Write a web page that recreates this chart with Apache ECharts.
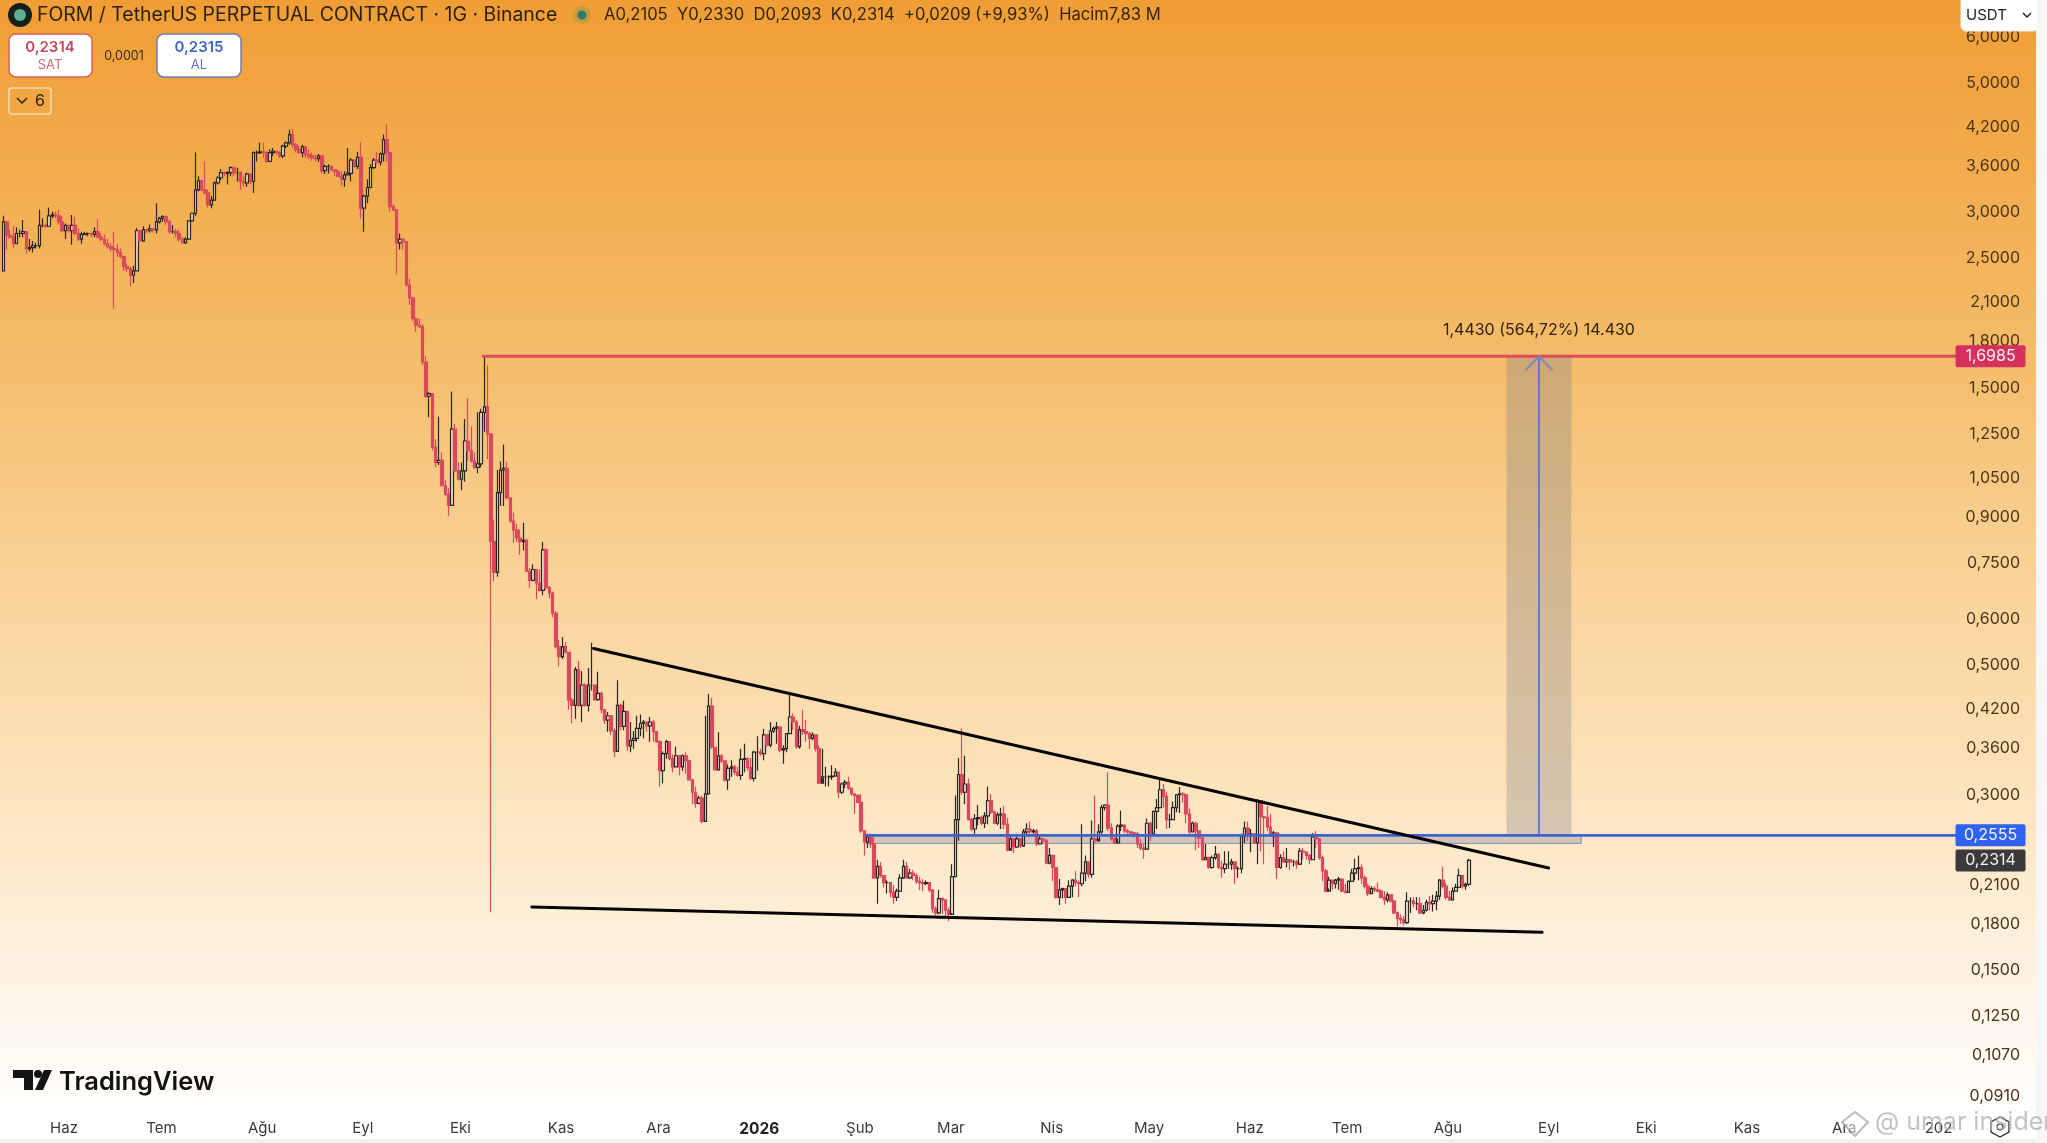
<!DOCTYPE html>
<html><head><meta charset="utf-8">
<style>html,body{margin:0;padding:0;background:#fff}#c{width:2047px;height:1143px}</style>
<script src="https://cdn.jsdelivr.net/npm/echarts@6/dist/echarts.min.js"></script>
</head><body><div id="c"></div>
<script>
const firstDay = '2025-05-12';
// daily candles: [open, close, low, high]
const candleRows = [
[2.38,2.89,2.38,2.96],[2.89,2.74,2.59,2.89],[2.74,2.72,2.70,2.80],[2.72,2.65,2.61,2.84],[2.65,2.76,2.65,2.83],[2.76,2.76,2.72,2.80],
[2.76,2.78,2.72,2.91],[2.78,2.60,2.55,2.78],[2.60,2.61,2.57,2.70],[2.61,2.63,2.56,2.68],[2.63,2.63,2.60,2.66],[2.63,2.85,2.60,3.03],
[2.85,2.85,2.83,2.93],[2.85,2.84,2.82,2.87],[2.84,2.96,2.84,3.06],[2.96,2.97,2.93,3.01],[2.97,2.96,2.93,3.01],[2.96,2.89,2.86,3.03],
[2.89,2.79,2.77,2.96],[2.79,2.85,2.70,2.87],[2.85,2.79,2.77,2.85],[2.79,2.85,2.64,2.97],[2.85,2.76,2.74,2.95],[2.76,2.70,2.68,2.82],
[2.70,2.75,2.65,2.78],[2.75,2.76,2.74,2.78],[2.76,2.76,2.73,2.77],[2.76,2.75,2.72,2.77],[2.75,2.78,2.72,2.83],[2.78,2.72,2.71,2.92],
[2.72,2.70,2.68,2.76],[2.70,2.65,2.63,2.75],[2.65,2.62,2.60,2.70],[2.62,2.60,2.57,2.66],[2.60,2.59,2.05,2.78],[2.59,2.56,2.52,2.65],
[2.56,2.52,2.50,2.60],[2.52,2.42,2.38,2.53],[2.42,2.40,2.37,2.45],[2.40,2.34,2.24,2.42],[2.34,2.38,2.27,2.43],[2.38,2.79,2.38,2.82],
[2.79,2.68,2.67,2.80],[2.68,2.80,2.67,2.84],[2.80,2.79,2.76,2.81],[2.79,2.81,2.77,2.86],[2.81,2.80,2.77,2.82],[2.80,2.89,2.76,3.11],
[2.89,2.93,2.87,2.95],[2.93,2.95,2.89,2.97],[2.95,2.89,2.85,2.96],[2.89,2.78,2.76,2.91],[2.78,2.78,2.76,2.85],[2.78,2.76,2.72,2.81],
[2.76,2.70,2.67,2.80],[2.70,2.66,2.65,2.72],[2.66,2.70,2.65,2.72],[2.70,2.90,2.69,2.91],[2.90,2.99,2.89,2.99],[2.99,3.28,2.96,3.80],
[3.28,3.40,3.26,3.46],[3.40,3.28,3.26,3.41],[3.28,3.24,3.22,3.67],[3.24,3.09,3.06,3.28],[3.09,3.15,3.05,3.20],[3.15,3.37,3.14,3.39],
[3.37,3.44,3.35,3.46],[3.44,3.51,3.41,3.56],[3.51,3.50,3.46,3.53],[3.50,3.51,3.35,3.53],[3.51,3.58,3.46,3.60],[3.58,3.51,3.46,3.60],
[3.51,3.51,3.39,3.58],[3.51,3.39,3.28,3.53],[3.39,3.37,3.32,3.46],[3.37,3.49,3.32,3.51],[3.49,3.39,3.35,3.49],[3.39,3.80,3.24,3.82],
[3.80,3.80,3.67,3.83],[3.80,3.81,3.78,3.95],[3.81,3.80,3.72,3.95],[3.80,3.67,3.65,3.82],[3.67,3.80,3.66,3.85],[3.80,3.82,3.75,3.87],
[3.82,3.80,3.77,3.82],[3.80,3.75,3.72,3.82],[3.75,3.90,3.72,3.92],[3.90,3.95,3.87,3.97],[3.95,4.08,3.92,4.16],[4.08,3.92,3.87,4.17],
[3.92,3.85,3.80,3.95],[3.85,3.80,3.78,3.90],[3.80,3.89,3.73,3.92],[3.89,3.77,3.72,3.90],[3.77,3.75,3.70,3.85],[3.75,3.72,3.68,3.80],
[3.72,3.71,3.67,3.77],[3.71,3.75,3.66,3.78],[3.75,3.54,3.50,3.75],[3.54,3.60,3.49,3.62],[3.60,3.60,3.50,3.63],[3.60,3.55,3.53,3.60],
[3.55,3.53,3.46,3.55],[3.53,3.46,3.45,3.55],[3.46,3.42,3.33,3.53],[3.42,3.48,3.32,3.53],[3.48,3.50,3.48,3.87],[3.50,3.69,3.39,3.72],
[3.69,3.60,3.58,3.67],[3.60,3.73,3.56,3.81],[3.73,3.05,2.93,3.96],[3.05,3.20,2.78,3.22],[3.20,3.31,3.11,3.42],[3.31,3.58,3.30,3.63],
[3.58,3.69,3.56,3.72],[3.69,3.66,3.63,3.81],[3.66,3.78,3.61,3.80],[3.78,4.00,3.67,4.08],[4.00,3.80,3.67,4.25],[3.80,3.07,3.01,3.80],
[3.07,3.03,3.01,3.10],[3.03,2.66,2.35,3.03],[2.66,2.70,2.59,2.76],[2.70,2.67,2.59,2.70],[2.67,2.25,2.24,2.67],[2.25,2.14,2.08,2.31],
[2.14,1.97,1.95,2.14],[1.97,1.92,1.87,1.98],[1.92,1.91,1.90,1.97],[1.91,1.66,1.64,1.93],[1.66,1.45,1.44,1.70],[1.45,1.465,1.335,1.473],
[1.465,1.185,1.17,1.46],[1.185,1.116,1.095,1.225],[1.116,1.125,1.105,1.337],[1.125,1.018,1.015,1.161],[1.018,.985,.978,1.04],[.985,.942,.903,1.01],
[.942,1.273,.94,1.477],[1.273,1.08,1.073,1.30],[1.08,1.045,1.038,1.116],[1.045,1.08,1.0,1.116],[1.08,1.215,1.034,1.325],[1.215,1.169,1.122,1.44],
[1.169,1.122,1.116,1.287],[1.122,1.095,1.088,1.161],[1.095,1.11,1.07,1.361],[1.11,1.361,1.095,1.38],[1.361,1.39,1.26,1.6985],[1.39,1.25,1.13,1.64],
[1.25,.817,.1886,1.25],[.817,.723,.698,.891],[.723,.991,.71,1.083],[.991,1.083,.94,1.12],[1.083,1.09,.94,1.198],[1.09,.97,.965,1.12],
[.97,.885,.879,.965],[.885,.855,.812,.915],[.855,.828,.815,.875],[.828,.816,.775,.855],[.816,.82,.788,.879],[.82,.726,.723,.826],
[.726,.70,.68,.735],[.70,.731,.698,.746],[.731,.693,.65,.731],[.693,.673,.67,.731],[.673,.79,.66,.815],[.79,.68,.675,.795],
[.68,.666,.652,.685],[.666,.615,.605,.67],[.615,.539,.535,.62],[.539,.518,.498,.553],[.518,.539,.513,.56],[.539,.527,.525,.549],
[.527,.436,.42,.528],[.436,.427,.398,.44],[.427,.492,.405,.497],[.492,.427,.425,.509],[.427,.463,.40,.489],[.463,.427,.425,.466],
[.427,.463,.417,.495],[.463,.463,.453,.547],[.463,.437,.435,.463],[.437,.448,.435,.488],[.448,.42,.414,.451],[.42,.403,.397,.42],
[.403,.41,.385,.416],[.41,.386,.38,.41],[.386,.356,.348,.39],[.356,.427,.356,.472],[.427,.393,.387,.43],[.393,.417,.387,.435],
[.417,.364,.357,.417],[.364,.372,.355,.40],[.372,.375,.36,.386],[.375,.39,.37,.41],[.39,.398,.378,.412],[.398,.40,.375,.403],
[.40,.394,.385,.40],[.394,.40,.37,.408],[.40,.385,.37,.403],[.385,.37,.368,.385],[.37,.33,.31,.372],[.33,.353,.314,.356],
[.353,.37,.346,.373],[.37,.346,.344,.37],[.346,.335,.328,.352],[.335,.35,.335,.363],[.35,.335,.324,.35],[.335,.35,.33,.352],
[.35,.343,.326,.355],[.343,.318,.318,.345],[.318,.303,.289,.32],[.303,.29,.285,.31],[.29,.296,.289,.299],[.296,.27,.268,.299],
[.27,.301,.27,.41],[.301,.426,.30,.447],[.426,.362,.36,.44],[.362,.331,.331,.362],[.331,.35,.33,.384],[.35,.343,.34,.352],
[.343,.318,.316,.343],[.318,.333,.306,.338],[.333,.335,.322,.344],[.335,.328,.324,.338],[.328,.324,.322,.335],[.324,.345,.318,.36],
[.345,.346,.328,.367],[.346,.334,.33,.348],[.334,.32,.318,.347],[.32,.355,.316,.357],[.355,.355,.33,.378],[.355,.353,.35,.36],
[.353,.38,.344,.389],[.38,.365,.363,.38],[.365,.386,.362,.40],[.386,.39,.383,.393],[.39,.392,.367,.40],[.392,.358,.355,.392],
[.358,.36,.339,.365],[.36,.382,.355,.383],[.382,.408,.382,.447],[.408,.40,.388,.414],[.40,.363,.36,.403],[.363,.388,.36,.394],
[.388,.385,.38,.42],[.385,.382,.37,.403],[.382,.375,.36,.385],[.375,.38,.372,.384],[.38,.36,.356,.38],[.36,.314,.313,.365],
[.314,.322,.32,.36],[.322,.322,.31,.335],[.322,.322,.31,.324],[.322,.323,.318,.337],[.323,.328,.323,.333],[.328,.303,.296,.328],
[.303,.313,.301,.315],[.313,.315,.308,.318],[.315,.308,.306,.322],[.308,.301,.299,.308],[.301,.299,.278,.301],[.299,.291,.29,.301],
[.291,.26,.258,.301],[.26,.249,.236,.257],[.249,.254,.243,.257],[.254,.247,.243,.257],[.247,.216,.215,.253],[.216,.226,.195,.232],
[.226,.218,.216,.23],[.218,.212,.208,.218],[.212,.212,.203,.214],[.212,.204,.20,.212],[.204,.20,.195,.21],[.20,.205,.197,.207],
[.205,.216,.205,.219],[.216,.226,.215,.232],[.226,.216,.215,.23],[.216,.22,.215,.224],[.22,.218,.214,.223],[.218,.213,.211,.22],
[.213,.212,.206,.217],[.212,.211,.205,.215],[.211,.212,.21,.214],[.212,.206,.204,.212],[.206,.191,.188,.206],[.191,.188,.186,.193],
[.188,.199,.187,.206],[.199,.198,.187,.20],[.198,.19,.186,.193],[.19,.187,.182,.192],[.187,.217,.188,.228],[.217,.272,.217,.299],
[.272,.325,.25,.347],[.325,.303,.30,.39],[.303,.313,.289,.35],[.313,.272,.271,.32],[.272,.262,.26,.274],[.262,.273,.257,.278],
[.273,.274,.266,.288],[.274,.268,.266,.276],[.268,.276,.263,.28],[.276,.293,.267,.31],[.293,.28,.278,.301],[.28,.268,.267,.282],
[.268,.277,.266,.28],[.277,.278,.262,.285],[.278,.267,.262,.287],[.267,.241,.24,.274],[.241,.252,.243,.255],[.252,.244,.238,.252],
[.244,.252,.243,.257],[.252,.245,.243,.252],[.245,.259,.244,.262],[.259,.262,.255,.268],[.262,.259,.257,.27],[.259,.26,.257,.262],
[.26,.247,.245,.262],[.247,.252,.247,.255],[.252,.25,.247,.252],[.25,.229,.228,.252],[.229,.236,.228,.243],[.236,.225,.213,.236],
[.225,.20,.199,.225],[.20,.206,.194,.215],[.206,.207,.199,.208],[.207,.20,.195,.207],[.20,.209,.20,.214],[.209,.214,.20,.215],
[.214,.212,.209,.222],[.212,.211,.20,.214],[.211,.22,.209,.267],[.22,.23,.213,.236],[.23,.219,.216,.23],[.219,.252,.216,.271],
[.252,.25,.248,.299],[.25,.259,.252,.267],[.259,.285,.257,.288],[.285,.288,.282,.289],[.288,.263,.26,.328],[.263,.252,.25,.268],
[.252,.248,.247,.255],[.248,.265,.252,.267],[.265,.266,.26,.282],[.266,.26,.258,.267],[.26,.259,.256,.262],[.259,.258,.255,.26],
[.258,.257,.253,.259],[.257,.247,.243,.259],[.247,.243,.241,.252],[.243,.242,.233,.247],[.242,.268,.242,.273],[.268,.257,.25,.27],
[.257,.281,.257,.281],[.281,.285,.262,.295],[.285,.306,.285,.32],[.306,.298,.285,.313],[.298,.272,.262,.303],[.272,.272,.263,.278],
[.272,.285,.272,.292],[.285,.30,.28,.301],[.30,.301,.279,.309],[.301,.30,.291,.303],[.30,.278,.268,.301],[.278,.259,.257,.284],
[.259,.268,.259,.27],[.268,.26,.241,.27],[.26,.253,.243,.26],[.253,.232,.231,.253],[.232,.234,.232,.247],[.234,.225,.224,.235],
[.225,.234,.224,.236],[.234,.237,.232,.245],[.237,.225,.224,.238],[.225,.224,.216,.231],[.224,.228,.22,.24],[.228,.228,.224,.24],
[.228,.23,.223,.233],[.23,.224,.211,.228],[.224,.224,.216,.226],[.224,.255,.22,.257],[.255,.263,.248,.27],[.263,.257,.25,.27],
[.257,.257,.239,.262],[.257,.248,.247,.258],[.248,.293,.228,.295],[.293,.275,.24,.293],[.275,.274,.228,.276],[.274,.264,.26,.287],
[.264,.255,.254,.278],[.255,.258,.244,.26],[.258,.225,.215,.258],[.225,.234,.224,.237],[.234,.23,.229,.24],[.23,.232,.225,.243],
[.232,.23,.223,.233],[.23,.23,.226,.232],[.23,.228,.224,.232],[.228,.24,.227,.243],[.24,.239,.232,.243],[.239,.236,.232,.24],
[.236,.232,.228,.237],[.232,.254,.232,.258],[.254,.252,.243,.26],[.252,.234,.232,.243],[.234,.222,.213,.236],[.222,.205,.204,.224],
[.205,.214,.207,.217],[.214,.211,.206,.214],[.211,.214,.207,.215],[.214,.215,.206,.217],[.215,.205,.204,.214],[.205,.204,.203,.211],
[.204,.213,.204,.214],[.213,.22,.213,.224],[.22,.224,.214,.233],[.224,.225,.214,.236],[.225,.216,.211,.228],[.216,.209,.207,.218],
[.209,.203,.201,.211],[.203,.207,.203,.209],[.207,.206,.204,.209],[.206,.205,.204,.212],[.205,.20,.199,.206],[.20,.198,.194,.205],
[.198,.202,.196,.204],[.202,.197,.196,.201],[.197,.188,.187,.198],[.188,.184,.178,.189],[.184,.183,.18,.187],[.183,.181,.179,.186],
[.181,.197,.18,.204],[.197,.197,.188,.20],[.197,.195,.192,.20],[.195,.195,.19,.20],[.195,.188,.187,.20],[.188,.19,.187,.194],
[.19,.196,.189,.198],[.196,.195,.19,.201],[.195,.197,.189,.202],[.197,.201,.19,.205],[.201,.214,.198,.215],[.214,.209,.207,.226],
[.209,.20,.198,.212],[.20,.198,.197,.205],[.198,.205,.198,.208],[.205,.208,.205,.211],[.208,.218,.208,.224],[.218,.209,.207,.217],
[.209,.2105,.206,.212],[.2105,.2314,.2093,.2330]
];
const candleOffsetDays = 1.4;
const priceTicks = [6,5,4.2,3.6,3,2.5,2.1,1.8,1.5,1.25,1.05,.9,.75,.6,.5,.42,.36,.3,.21,.18,.15,.125,.107,.091];
const monthTickDates = ['2025-06-01','2025-07-01','2025-08-01','2025-09-01','2025-10-01','2025-11-01','2025-12-01','2026-01-01','2026-02-01','2026-03-01','2026-04-01','2026-05-01','2026-06-01','2026-07-01','2026-08-01','2026-09-01','2026-10-01','2026-11-01','2026-12-01','2026-12-30'];
const monthTickLabels = ['Haz','Tem','Ağu','Eyl','Eki','Kas','Ara','2026','Şub','Mar','Nis','May','Haz','Tem','Ağu','Eyl','Eki','Kas','Ara','202'];
const redLevel = 1.6985, blueLevel = 0.2555, zoneLow = 0.2475, lastPrice = 0.2314;
const redLine = [['2025-10-08',redLevel],['2027-01-15',redLevel]];
const blueLine = [['2026-02-03',blueLevel],['2027-01-15',blueLevel]];
const upperTrend = [['2025-11-11',.535],['2026-09-01',.2246]];
const lowerTrend = [['2025-10-23',.1924],['2026-08-30',.1742]];
const zoneBox = [['2026-02-03',blueLevel],['2026-09-11',zoneLow]];
const positionBox = [['2026-08-19',redLevel],['2026-09-08',blueLevel]];
const arrowShaft = [['2026-08-29',blueLevel],['2026-08-29',redLevel]];
const arrowHead = [['2026-08-25',1.61],['2026-08-29',redLevel],['2026-09-02',1.61]];
const measureLabel = [['2026-08-29',1.885]];
const measureText = '1,4430 (564,72%) 14.430';
const priceTags = [[redLevel,'#d6305f'],[blueLevel,'#2f62ee'],[lastPrice,'#3a3a3a']];
const tagDate = '2027-01-15';
const titleText = 'FORM / TetherUS PERPETUAL CONTRACT · 1G · Binance';
const ohlcText = 'A0,2105  Y0,2330  D0,2093  K0,2314  +0,0209 (+9,93%)  Hacim7,83 M';

const FONT = 'Inter, Roboto, sans-serif';
const day0 = Date.parse(firstDay+'T00:00:00Z');
const fmtPrice = v => Number(v).toFixed(4).replace('.',',');
const candleData = candleRows.map((r,i)=>[i+candleOffsetDays, r[0],r[1],r[2],r[3]]);
const toT = s => Math.round((Date.parse(s+'T00:00:00Z')-day0)/864e5);
const tickDays = monthTickDates.map(toT);
const lineS = (data,color,width,z) => ({type:'line',data:data.map(p=>[toT(p[0]),p[1]]),showSymbol:false,symbol:'none',silent:true,animation:false,z:z||5,
  lineStyle:{color,width,cap:'round'}});
const txt = (x,y,text,font,fill,align) => ({type:'text',z:100,silent:true,style:{x,y,text,font:font+' '+FONT,fill,textAlign:align||'left',textVerticalAlign:'middle'}});
const rr = (x,y,w,h,r,fill,stroke,lw) => ({type:'rect',z:99,silent:true,shape:{x,y,width:w,height:h,r},style:{fill,stroke,lineWidth:lw||1}});

const chart = echarts.init(document.getElementById('c'),null,{renderer:'canvas',width:2047,height:1143});
chart.setOption({
  animation:false,
  grid:{left:0,top:1,width:2036,height:1116,containLabel:false},
  xAxis:{type:'value',min:0.3,max:627,scale:true,
    axisLine:{show:false},axisTick:{show:false},splitLine:{show:false},
    axisLabel:{customValues:tickDays,margin:4,fontFamily:FONT,fontSize:15,color:'#3a3a3a',hideOverlap:false,showMinLabel:true,showMaxLabel:true,
      formatter:v=>{const i=tickDays.indexOf(+v);const s=i<0?'':monthTickLabels[i];return s==='2026'?'{b|2026}':s;},
      rich:{b:{fontWeight:700,fontSize:15.5,fontFamily:FONT,color:'#222'}}}},
  yAxis:{type:'log',logBase:10,min:0.0839,max:6.92,position:'right',
    axisLine:{show:false},axisTick:{show:false},splitLine:{show:false},minorSplitLine:{show:false},
    axisLabel:{inside:true,margin:16,customValues:priceTicks,fontFamily:FONT,fontSize:16,color:'#4a3418',showMinLabel:true,showMaxLabel:true,formatter:fmtPrice}},
  graphic:[
    {type:'rect',z:-10,silent:true,shape:{x:0,y:0,width:2036,height:1139},style:{fill:new echarts.graphic.LinearGradient(0,0,0,1,[
      {offset:0,color:'rgb(240,157,53)'},{offset:.3,color:'rgb(244,187,103)'},{offset:.52,color:'rgb(250,212,155)'},
      {offset:.7,color:'rgb(252,228,190)'},{offset:.875,color:'rgb(254,245,232)'},{offset:.95,color:'rgb(255,252,248)'},{offset:1,color:'#fff'}])}},
    {type:'rect',z:-9,silent:true,shape:{x:0,y:1139,width:2047,height:4},style:{fill:'#f0f0f2'}},
    {type:'rect',z:-9,silent:true,shape:{x:2036,y:0,width:11,height:1143},style:{fill:'#f6f6f8'}},
    {type:'circle',z:99,silent:true,shape:{cx:20,cy:15,r:12},style:{fill:'#14201c'}},
    {type:'circle',z:100,silent:true,shape:{cx:20,cy:15,r:6},style:{fill:'#5fae94'}},
    txt(37,15,titleText,'19.45px','#2d2113'),
    {type:'circle',z:99,silent:true,shape:{cx:582,cy:15,r:9},style:{fill:'rgba(120,150,100,.35)'}},
    {type:'circle',z:100,silent:true,shape:{cx:582,cy:15,r:4.5},style:{fill:'#2f7a62'}},
    txt(604,15,ohlcText,'16.6px','#33240f'),
    rr(9,34,83,43,7,'#fff','#d9625a',1.5),
    txt(50,47,'0,2314','600 15px','#c7485c','center'),
    txt(50,65,'SAT','13px','#cf6a70','center'),
    txt(124,56,'0,0001','12.5px','#3a2c18','center'),
    rr(157,34,84,43,7,'#fff','#6d7fb2',1.5),
    txt(199,47,'0,2315','600 15px','#3f66bd','center'),
    txt(199,65,'AL','13px','#5b78bf','center'),
    rr(9,88,42,26,3,'rgba(0,0,0,0)','#f8dcae',1.5),
    {type:'polyline',z:100,silent:true,shape:{points:[[17,98],[22,103],[27,98]]},style:{stroke:'#2d2113',lineWidth:1.5,fill:null}},
    txt(40,101,'6','16px','#2d2113','center'),
    rr(1961,-6,77,37,5,'#fff','#f3efe8',1),
    txt(1966,15,'USDT','15px','#222'),
    {type:'polyline',z:100,silent:true,shape:{points:[[2023,13],[2027,17],[2031,13]]},style:{stroke:'#222',lineWidth:1.5,fill:null}},
    {type:'polygon',z:100,silent:true,shape:{points:[[13,1070],[33,1070],[33,1090],[24,1090],[24,1078],[13,1078]]},style:{fill:'#131313'}},
    {type:'circle',z:100,silent:true,shape:{cx:38,cy:1074,r:4},style:{fill:'#131313'}},
    {type:'polygon',z:100,silent:true,shape:{points:[[44,1070],[52,1070],[43,1090],[35,1090]]},style:{fill:'#131313'}},
    txt(59,1082,'TradingView','600 25.5px','#131313'),
    {type:'polygon',z:100,silent:true,shape:{points:[[2000,1117],[2009,1122],[2009,1132],[2000,1137],[1991,1132],[1991,1122]]},style:{fill:'rgba(255,255,255,0)',stroke:'#333',lineWidth:1.4}},
    {type:'circle',z:100,silent:true,shape:{cx:2000,cy:1127,r:3},style:{fill:'rgba(255,255,255,0)',stroke:'#333',lineWidth:1.2}},
    {type:'polygon',z:101,silent:true,shape:{points:[[1855,1112],[1868,1122],[1855,1136],[1842,1122]]},style:{fill:'rgba(255,255,255,.55)',stroke:'rgba(170,170,170,.8)',lineWidth:2}},
    txt(1875,1122,'@ umar insider','25px','rgba(175,175,175,.75)')
  ],
  series:[
    Object.assign(lineS([], '#000',1,1),{markArea:{silent:true,z:1,data:[
      [{coord:[toT(zoneBox[0][0]),zoneBox[0][1]],itemStyle:{color:'rgba(125,130,150,.34)',borderColor:'rgba(95,110,180,.7)',borderWidth:1}},{coord:[toT(zoneBox[1][0]),zoneBox[1][1]]}],
      [{coord:[toT(positionBox[0][0]),positionBox[0][1]],itemStyle:{color:'rgba(120,123,134,.3)'}},{coord:[toT(positionBox[1][0]),positionBox[1][1]]}]
    ]}}),
    {type:'candlestick',data:candleData,barWidth:3,z:3,silent:true,animation:false,
      itemStyle:{color:'rgba(235,228,215,.8)',borderColor:'#2a2722',color0:'#d94a5d',borderColor0:'#d94a5d',borderWidth:1.2}},
    lineS(redLine,'#e04a5e',2.8,4),
    lineS(blueLine,'#3d62d8',2.6,6),
    lineS(arrowShaft,'#6279d6',2,4),
    lineS(arrowHead,'#7f86bd',2,4),
    lineS(upperTrend,'#050505',3,7),
    lineS(lowerTrend,'#050505',3,7),
    {type:'scatter',data:measureLabel.map(p=>[toT(p[0]),p[1]]),symbolSize:1,silent:true,z:8,itemStyle:{color:'rgba(0,0,0,0)',opacity:1},
      label:{show:true,position:'inside',formatter:()=>measureText,fontFamily:FONT,fontSize:16,color:'#2f2210'}},
    {type:'scatter',data:priceTags.map(t=>({value:[toT(tagDate),t[0]],label:{backgroundColor:t[1]}})),symbolSize:1,silent:true,z:10,itemStyle:{color:'rgba(0,0,0,0)',opacity:1},
      label:{show:true,position:'inside',formatter:p=>fmtPrice(p.value[1]),fontFamily:FONT,fontSize:16,color:'#f5f2f2',width:70,height:22,lineHeight:22,align:'center',verticalAlign:'middle',borderRadius:2}}
  ]
});
</script></body></html>
